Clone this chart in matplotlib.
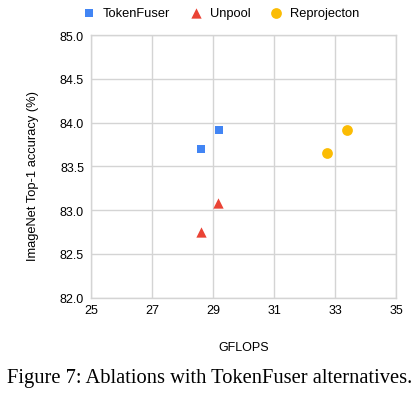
import matplotlib.pyplot as plt

plt.rcParams['font.family'] = ['Liberation Sans', 'DejaVu Sans']

# data
tokenfuser_x = [28.6, 29.2]
tokenfuser_y = [83.70, 83.92]
unpool_x = [28.6, 29.15]
unpool_y = [82.75, 83.08]
reproj_x = [32.75, 33.4]
reproj_y = [83.65, 83.92]

x_ticks = [25, 27, 29, 31, 33, 35]
y_ticks = [82.0, 82.5, 83.0, 83.5, 84.0, 84.5, 85.0]

fig = plt.figure(figsize=(4.2, 4.1), dpi=100)
ax = fig.add_axes([91/420, 1 - 298.5/410, (396 - 91)/420, (298.5 - 36)/410])

ax.scatter(tokenfuser_x, tokenfuser_y, marker='s', s=30, color='#4285F4',
           label='TokenFuser', zorder=3, linewidths=0)
ax.scatter(unpool_x, unpool_y, marker='^', s=55, color='#EA4335',
           label='Unpool', zorder=3, linewidths=0)
ax.scatter(reproj_x, reproj_y, marker='o', s=60, color='#FBBC04',
           label='Reprojecton', zorder=3, linewidths=0)

ax.set_xlim(25, 35)
ax.set_ylim(82, 85)
ax.set_xticks(x_ticks)
ax.set_yticks(y_ticks)
ax.set_yticklabels(['%.1f' % v for v in y_ticks])
ax.tick_params(length=0, labelsize=9, pad=5)
ax.grid(True, color='#d4d4d4', lw=1)
for s in ax.spines.values():
    s.set_color('#d4d4d4')
    s.set_linewidth(1)

ax.set_xlabel('GFLOPS', fontsize=9, labelpad=18)
ax.set_ylabel('ImageNet Top-1 accuracy (%)', fontsize=9.3)
# label sits a bit left of the ticks and slightly below the axes middle
ax.yaxis.set_label_coords(-(91 - 39)/305, (298.5 - 176)/262.5)

ax.legend(loc='lower left', bbox_to_anchor=(-0.045, 1.04), ncol=3, frameon=False,
          fontsize=9.3, handletextpad=0.6, columnspacing=1.45, borderaxespad=0,
          handlelength=1.0)

fig.text(0.5, 1 - 383/410, 'Figure 7: Ablations with TokenFuser alternatives.',
         ha='center', va='baseline', fontsize=14.8, family='Liberation Serif')

fig.savefig('out.png', dpi=100)
